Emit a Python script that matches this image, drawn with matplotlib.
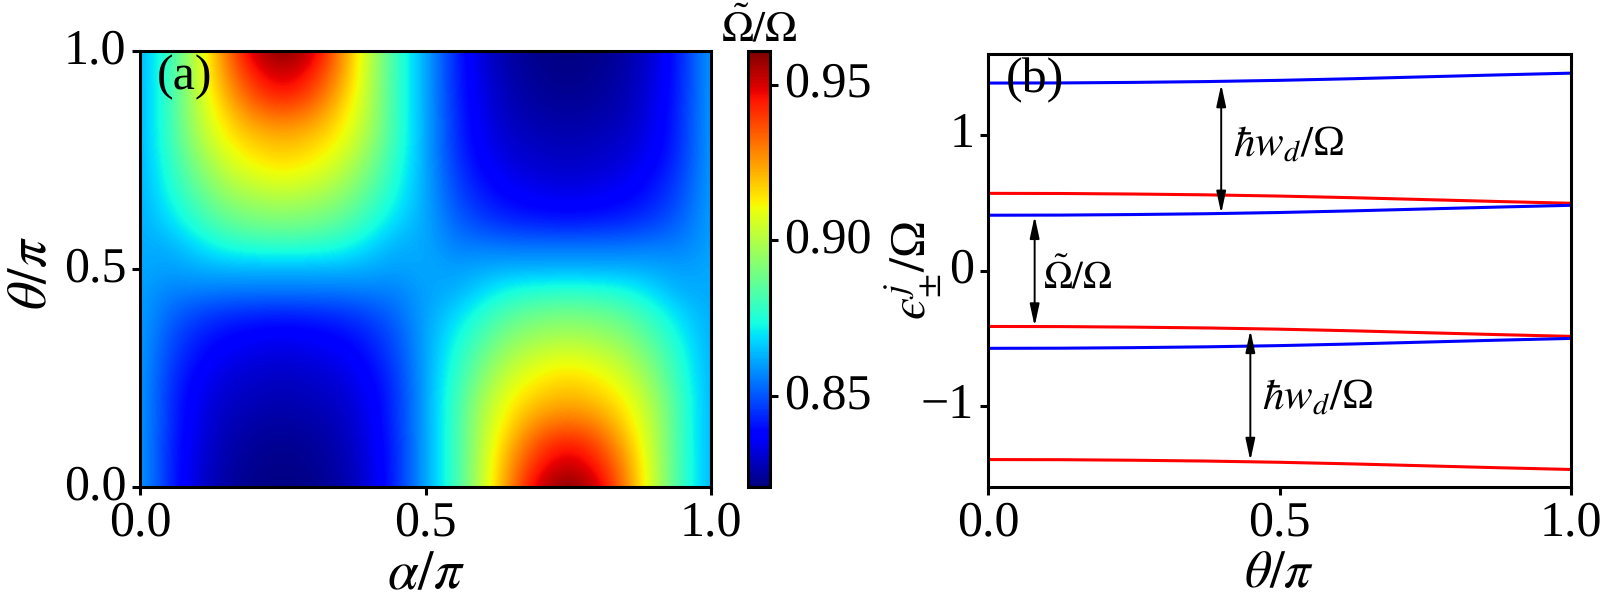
import matplotlib
matplotlib.use("Agg")
import matplotlib.pyplot as plt
import numpy as np

plt.rcParams['font.family'] = ['Liberation Serif', 'DejaVu Serif']
plt.rcParams['mathtext.fontset'] = 'stix'
plt.rcParams['font.size'] = 36
plt.rcParams['axes.linewidth'] = 2.2
plt.rcParams['ytick.alignment'] = 'center'
plt.rcParams['text.hinting'] = 'no_hinting'

# panel (a): values, alpha = 0, .05 ... .25
# the right half repeats the left half upside down
warm_lobe = [  # theta = 1.0 down to 0.5
    [.862, .878, .903, .930, .953, .961],
    [.862, .878, .903, .927, .945, .953],
    [.862, .878, .902, .922, .938, .945],
    [.862, .878, .901, .916, .928, .932],
    [.862, .878, .898, .912, .919, .922],
    [.862, .876, .893, .906, .913, .916],
    [.862, .874, .888, .899, .905, .908],
    [.862, .871, .882, .892, .896, .898],
    [.862, .867, .876, .884, .888, .889],
    [.862, .862, .868, .874, .876, .877],
    [.862, .860, .862, .863, .863, .863],
]
cold_lobe = [  # theta = 0.45 down to 0.0
    [.861, .856, .856, .855, .855, .855],
    [.861, .853, .848, .845, .844, .843],
    [.861, .850, .843, .839, .837, .836],
    [.861, .848, .840, .835, .833, .832],
    [.861, .846, .837, .832, .830, .829],
    [.861, .845, .835, .830, .828, .827],
    [.861, .845, .834, .828, .826, .825],
    [.861, .844, .833, .827, .824, .823],
    [.861, .844, .832, .826, .823, .822],
    [.861, .844, .831, .825, .822, .821],
]
cbar_ticks = [0.85, 0.90, 0.95]
vmin, vmax = 0.8208, 0.9608

# panel (b)
theta = [0, 0.125, 0.25, 0.375, 0.5, 0.625, 0.75, 0.875, 1.0]
blue_top = [1.380, 1.381, 1.385, 1.391, 1.400, 1.412, 1.426, 1.440, 1.453]
red_upper = [.568, .567, .563, .557, .548, .536, .522, .508, .495]
blue_upper = [.407, .408, .412, .418, .427, .439, .453, .467, .480]
red_lower = [-.412, -.413, -.417, -.423, -.432, -.444, -.458, -.472, -.485]
blue_lower = [-.573, -.572, -.568, -.562, -.553, -.541, -.527, -.513, -.500]
red_bottom = [-1.392, -1.393, -1.397, -1.403, -1.412, -1.424, -1.438, -1.452, -1.465]

arrow_x = [0.40, 0.08, 0.45]
arrow_lo = [0.42, -0.41, -1.40]
arrow_hi = [1.37, 0.40, -0.44]
label_x = [0.42, 0.095, 0.47]
label_y = [0.92, -0.05, -0.94]
label_txt = [r'$\hbar w_d/$Ω', r'$\tilde{\Omega}/\Omega$', r'$\hbar w_d/$Ω']
label_size = [31, 28, 31]


def build_grid():
    warm = np.array(warm_lobe)
    cold = np.array(cold_lobe)
    warm_full = np.hstack([warm, warm[:, -2::-1]])
    cold_full = np.hstack([cold, cold[:, -2::-1]])
    # rows bottom to top, theta 0 ... 1
    left = np.vstack([cold_full[::-1], warm_full[::-1]])
    right = left[::-1]
    return np.hstack([left, right[:, 1:]])


def add_axes(fig, x0, y0, x1, y1):
    w, h = fig.get_size_inches() * fig.dpi
    return fig.add_axes([x0 / w, 1 - y1 / h, (x1 - x0) / w, (y1 - y0) / h])


fig = plt.figure(figsize=(16, 6.05), dpi=100)

ax1 = add_axes(fig, 140, 51, 711, 487)
im = ax1.imshow(build_grid(), cmap='jet', origin='lower', aspect='auto', vmin=vmin, vmax=vmax,
                interpolation='bicubic', extent=(-0.025, 1.025, -0.025, 1.025))
ax1.set_xlim(0, 1)
ax1.set_ylim(0, 1)
ax1.set_xticks([0, 0.5, 1.0])
ax1.set_yticks([0, 0.5, 1.0])
ax1.set_xlabel(r'$\alpha/\pi$', labelpad=3, fontsize=40)
ax1.set_ylabel(r'$\theta/\pi$', labelpad=4, fontsize=40, y=0.49)
ax1.tick_params(width=2.2, length=6, pad=4)
ax1.text(0.03, 0.94, '(a)', transform=ax1.transAxes, va='center', ha='left')

cax = add_axes(fig, 748, 51, 770, 487)
cb = fig.colorbar(im, cax=cax)
cb.set_ticks(cbar_ticks)
cb.ax.tick_params(width=2.2, length=6, pad=4)
cb.outline.set_linewidth(2.2)
cax.set_title(r'$\tilde{\Omega}/\Omega$', fontsize=31, pad=1)

ax2 = add_axes(fig, 988, 54, 1571, 487)
ax2.plot(theta, blue_top, color='b', lw=2.2)
ax2.plot(theta, red_upper, color='r', lw=2.2)
ax2.plot(theta, blue_upper, color='b', lw=2.2)
ax2.plot(theta, red_lower, color='r', lw=2.2)
ax2.plot(theta, blue_lower, color='b', lw=2.2)
ax2.plot(theta, red_bottom, color='r', lw=2.2)
for x, lo, hi in zip(arrow_x, arrow_lo, arrow_hi):
    ax2.annotate('', xy=(x, hi), xytext=(x, lo),
                 arrowprops=dict(arrowstyle='<|-|>,head_length=0.6,head_width=0.13', color='k', lw=1.4,
                                 shrinkA=0, shrinkB=0, mutation_scale=22))
for x, y, s, fs in zip(label_x, label_y, label_txt, label_size):
    ax2.text(x, y, s, fontsize=fs, va='center', ha='left')
ax2.set_xlim(0, 1)
ax2.set_ylim(-1.594, 1.594)
ax2.set_xticks([0, 0.5, 1.0])
ax2.set_yticks([-1, 0, 1])
ax2.set_xlabel(r'$\theta/\pi$', labelpad=3, fontsize=38)
ax2.set_ylabel('$\u03f5_{\\pm}^{j}/$Ω', labelpad=-16)
ax2.tick_params(width=2.2, length=6, pad=4)
ax2.text(0.03, 0.94, '(b)', transform=ax2.transAxes, va='center', ha='left')

fig.savefig('out.png', dpi=100)
